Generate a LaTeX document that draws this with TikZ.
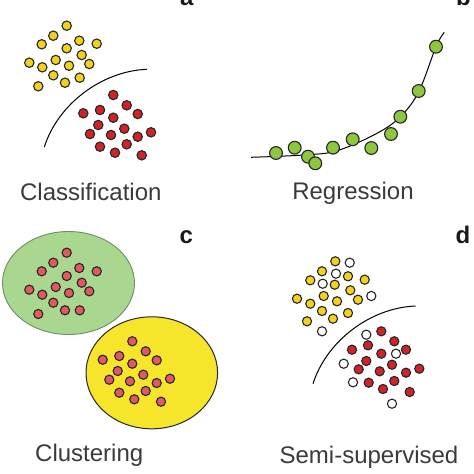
\documentclass[tikz,border=0pt]{standalone}
\usepackage{fontspec}
\setmainfont{Liberation Sans}
\definecolor{ydotc}{HTML}{F2D21E}
\definecolor{rdotc}{HTML}{CF2329}
\definecolor{pdotc}{HTML}{E2595F}
\definecolor{gdotc}{HTML}{8DC63F}
\definecolor{gellc}{HTML}{A9D78F}
\definecolor{gelld}{HTML}{6E8C62}
\definecolor{yellc}{HTML}{F6E52B}
\definecolor{txtc}{HTML}{3A3A3A}
\tikzset{
  dotb/.style={draw=black!85, line width=1.1pt},
  ydot/.style={dotb, fill=ydotc},
  rdot/.style={dotb, fill=rdotc},
  pdot/.style={dotb, fill=pdotc},
  wdot/.style={dotb, fill=white},
  gdot/.style={dotb, fill=gdotc},
  sep/.style={line width=1pt, black},
  lbl/.style={font=\fontsize{24}{28}\selectfont, text=txtc, anchor=base, inner sep=0pt},
  plbl/.style={font=\fontsize{24}{28}\selectfont\bfseries, text=black!90, anchor=base west, inner sep=0pt}
}
\begin{document}
\begin{tikzpicture}[x=1pt,y=-1pt]
\useasboundingbox (0,0) rectangle (474,474);
% ---------- panel a ----------
\draw[sep] (44.3,147) .. controls (58,104) and (102,71) .. (147,69.3);
\foreach \x/\y in {66.7/25.7,53.3/35.7,41.7/44.3,79.3/40.7,96.7/43.7,66.7/48.3,81.7/55,55.7/60,29.3/62.7,42.3/67.3,69/65.7,89.3/64,53.3/75.3,65/82.7,79.7/77.7,38.3/86.3}
  \draw[ydot] (\x,\y) circle[radius=4.7];
\foreach \x/\y in {113.3/95,126.7/105.3,100/110,83.3/113.3,137.7/114,113.3/117.7,98.3/125,124.3/128.7,90/134,111/135,137.7/136.7,151/132.3,100/146.7,126.7/144.3,115/152.7,141.7/155.3}
  \draw[rdot] (\x,\y) circle[radius=4.7];
\node[lbl] (la) at (90.8,200) {Classification};
\node[plbl] (pa) at (180,5) {a};
% ---------- panel b ----------
\draw[sep] plot[smooth, tension=0.6] coordinates {(251,157.3) (303.7,155) (337,150.7) (377,133.3) (400.3,116.7) (418.7,91.7) (436,46.7) (444.3,32.3)};
\foreach \x/\y in {436/46.7,418.7/91,400.3/116.7,391/134,371.3/148,352.7/139.3,333/147.7,294.7/147.7,276/153,308/156.7,315.3/163.3}
  \draw[gdot] (\x,\y) circle[radius=6.4];
\node[lbl] (lb) at (353,199.5) {Regression};
\node[plbl] (pb) at (456,5) {b};
% ---------- panel c ----------
\draw[draw=gelld, line width=0.9pt, fill=gellc] (68.5,283) ellipse[x radius=66, y radius=51.5];
\draw[draw=black!85, line width=1pt, fill=yellc] (151.8,372.8) ellipse[x radius=65.8, y radius=56];
\foreach \x/\y in {66.7/252.7,53.3/262.7,41.7/271.3,79.3/268,96.7/271.3,66.7/276,81.7/282.7,55.7/287,29.3/289.7,42.3/294.7,69/293,89.3/291.3,53.3/302.7,65/310.3,79.7/310.3,38.3/314}
  \draw[pdot] (\x,\y) circle[radius=4.6];
\foreach \x/\y in {132.3/341.3,145.7/351.3,119.3/356,102.7/359.7,156.7/360.3,132.3/363.7,117.7/371,143.3/374.7,109.3/379.7,130/381.3,156.7/383,170/378.7,119.3/392.7,145.7/391,134.3/399.3,161/401.7}
  \draw[pdot] (\x,\y) circle[radius=4.6];
\node[lbl] (lc) at (89.2,461) {Clustering};
\node[plbl] (pc) at (179.5,243) {c};
% ---------- panel d ----------
\draw[sep, shift={(268.7,236.7)}] (44.3,147) .. controls (58,104) and (102,71) .. (147,69.3);
\foreach \x/\y in {335.3/261.3,322/271.3,348/276.3,310.3/280.3,334.7/284.7,364.7/279.7,350.3/290.3,323.7/296,358/299.7,297/298.7,310.3/303.7,337/301.3,322/311,348/313,333/318.7,307/321.3}
  \draw[ydot] (\x,\y) circle[radius=4.6];
\foreach \x/\y in {381.3/331.3,368/345.3,394.3/341.3,352/349.7,406/349.7,381.3/353.7,366.3/361,392/364.7,358.7/369.3,379.7/371.3,406/372.7,419.3/368.7,368.7/382.7,394.3/381,383/389,409.7/392}
  \draw[rdot] (\x,\y) circle[radius=4.6];
\foreach \x/\y in {349.7/262.7,336/273.7,322.7/283.7,371.3/296,322/331.3,366.3/334.7,396/353.7,343.7/363.7,353/382.3,392/403.7}
  \draw[wdot] (\x,\y) circle[radius=4.6];
\node[lbl] (ld) at (369,463) {Semi-supervised};
\node[plbl] (pd) at (455.5,243) {d};
\end{tikzpicture}
\end{document}
